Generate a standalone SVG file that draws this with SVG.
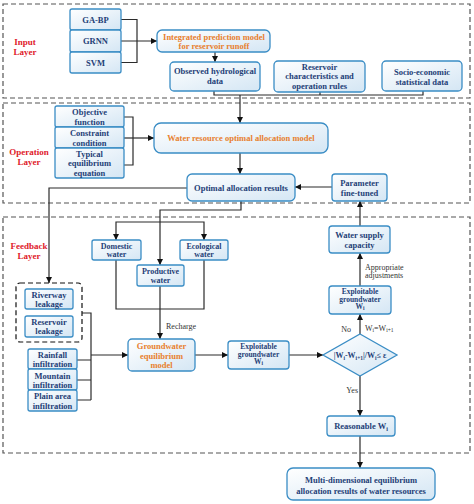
<svg xmlns="http://www.w3.org/2000/svg" width="474" height="504" viewBox="0 0 474 504">
<defs>
<linearGradient id="bg" x1="0" y1="0" x2="1" y2="1">
<stop offset="0" stop-color="#ffffff"/>
<stop offset="1" stop-color="#d4e6f4"/>
</linearGradient>
<marker id="ar" viewBox="0 0 10 10" refX="10" refY="5" markerWidth="7" markerHeight="6" markerUnits="userSpaceOnUse" orient="auto">
<path d="M0,0 L10,5 L0,10 z" fill="#111"/>
</marker>
<style>
.layer{fill:none;stroke:#555;stroke-width:1.2;stroke-dasharray:5 3}
.bx{fill:url(#bg);stroke:#3a8dc5;stroke-width:1.3}
.t{font-family:"Liberation Serif",serif;font-weight:bold;font-size:8.5px;fill:#1f3f77;text-anchor:middle}
.s{font-size:7.5px}
.m{font-size:8px}
.o{fill:#e8802e}
.r{font-family:"Liberation Serif",serif;font-weight:bold;font-size:9px;fill:#e0202a;text-anchor:middle}
.l{font-family:"Liberation Serif",serif;font-size:8px;fill:#333}
.c{fill:none;stroke:#2b2b2b;stroke-width:1.2}
.a{marker-end:url(#ar)}
</style>
</defs>
<rect width="474" height="504" fill="#fff"/>

<g id="layers">
<rect class="layer" x="3" y="4" width="467" height="94"/>
<rect class="layer" x="3" y="103" width="467" height="100"/>
<rect class="layer" x="3" y="217" width="467" height="236"/>
<text class="r" x="25" y="45">Input</text><text class="r" x="25" y="55">Layer</text>
<text class="r" x="29" y="155">Operation</text><text class="r" x="29" y="165">Layer</text>
<text class="r" x="29" y="249">Feedback</text><text class="r" x="29" y="259">Layer</text>
</g>

<g id="connectors">
<path class="c" d="M121,19.5 H137 V62.5 H121"/>
<path class="c a" d="M121,41 H157"/>
<path class="c a" d="M215,52 V62"/>
<path class="c" d="M214,91 V95 H423 V91 M320,92 V95"/>
<path class="c a" d="M240,95 V123"/>
<path class="c" d="M124,117 H133 V165 H124"/>
<path class="c a" d="M124,138 H154"/>
<path class="c a" d="M240,153 V174"/>
<path class="c a" d="M332,187 H295"/>
<path class="c a" d="M187,188 H49 V283"/>
<path class="c a" d="M241,201 V210 H160 V265"/>
<path class="c a" d="M160,222 H116 V240"/>
<path class="c a" d="M160,222 H204 V240"/>
<path class="c" d="M116,260 V309 H204 V260"/>
<path class="c a" d="M160,286 V339"/>
<path class="c" d="M82,313 H91 V400 M77,360 H91 M77,380 H91 M77,400 H91"/>
<path class="c a" d="M91,355 H128"/>
<path class="c a" d="M195,355 H228"/>
<path class="c a" d="M289,355 H323"/>
<path class="c a" d="M360,334 V314"/>
<path class="c a" d="M360,286 V253"/>
<path class="c a" d="M360,226 V201"/>
<path class="c a" d="M360,376 V416"/>
<path class="c a" d="M360,436 V468"/>
<text class="l" x="166" y="329">Recharge</text>
<text class="l" x="365" y="270">Appropriate</text>
<text class="l" x="365" y="278">adjustments</text>
<text class="l" x="351" y="332" text-anchor="end">No</text>
<text class="l" x="365" y="330.5">W<tspan font-size="5.5" dy="1.5">i</tspan><tspan dy="-1.5">=W</tspan><tspan font-size="5.5" dy="1.5">i+1</tspan></text>
<text class="l" x="358" y="393" text-anchor="end">Yes</text>
</g>

<g id="gabp"><rect class="bx" x="70" y="9" width="51" height="21" rx="2"/><text class="t" x="95.5" y="22.5">GA-BP</text></g>
<g id="grnn"><rect class="bx" x="70" y="30" width="51" height="22" rx="2"/><text class="t" x="95.5" y="44">GRNN</text></g>
<g id="svm"><rect class="bx" x="70" y="52" width="51" height="21" rx="2"/><text class="t" x="95.5" y="65.5">SVM</text></g>

<g id="integrated"><rect class="bx" x="157" y="30" width="113" height="22" rx="5"/>
<text class="t o" x="214" y="39.5">Integrated prediction model</text><text class="t o" x="214" y="48.5">for reservoir runoff</text></g>
<g id="observed"><rect class="bx" x="170" y="62" width="90" height="29" rx="4"/>
<text class="t" x="215" y="74">Observed hydrological</text><text class="t" x="215" y="84">data</text></g>
<g id="reservoir"><rect class="bx" x="274" y="61" width="91" height="31" rx="4"/>
<text class="t" x="319.5" y="69.5">Reservoir</text><text class="t" x="319.5" y="79">characteristics and</text><text class="t" x="319.5" y="88.5">operation rules</text></g>
<g id="socio"><rect class="bx" x="382" y="61" width="80" height="30" rx="4"/>
<text class="t" x="422" y="75">Socio-economic</text><text class="t" x="422" y="84.5">statistical data</text></g>

<g id="objective"><rect class="bx" x="55" y="106" width="69" height="21" rx="2"/>
<text class="t" x="89.5" y="115">Objective</text><text class="t" x="89.5" y="124.5">function</text></g>
<g id="constraint"><rect class="bx" x="55" y="127" width="69" height="21" rx="2"/>
<text class="t" x="89.5" y="136">Constraint</text><text class="t" x="89.5" y="145.5">condition</text></g>
<g id="typical"><rect class="bx" x="55" y="148" width="69" height="30" rx="2"/>
<text class="t" x="89.5" y="156.5">Typical</text><text class="t" x="89.5" y="166">equilibrium</text><text class="t" x="89.5" y="175.5">equation</text></g>

<g id="model"><rect class="bx" x="154" y="123" width="174" height="30" rx="7"/>
<text class="t o" x="241" y="141">Water resource optimal allocation model</text></g>
<g id="results"><rect class="bx" x="187" y="174" width="108" height="27" rx="5"/>
<text class="t" x="241" y="190.5">Optimal allocation results</text></g>
<g id="param"><rect class="bx" x="332" y="174" width="55" height="27" rx="3"/>
<text class="t" x="359.5" y="186">Parameter</text><text class="t" x="359.5" y="196">fine-tuned</text></g>

<g id="domestic"><rect class="bx" x="92" y="240" width="49" height="20" rx="2"/>
<text class="t m" x="116.5" y="248.5">Domestic</text><text class="t m" x="116.5" y="256.8">water</text></g>
<g id="ecological"><rect class="bx" x="180" y="240" width="48" height="20" rx="2"/>
<text class="t m" x="204" y="248.5">Ecological</text><text class="t m" x="204" y="256.8">water</text></g>
<g id="productive"><rect class="bx" x="137" y="265" width="47" height="21" rx="2"/>
<text class="t m" x="160.5" y="274">Productive</text><text class="t m" x="160.5" y="282.5">water</text></g>

<g id="leakage"><rect x="16" y="283" width="66" height="59" rx="4" fill="none" stroke="#111" stroke-width="1.2" stroke-dasharray="5 3"/></g>
<g id="riverway"><rect class="bx" x="25" y="289" width="48" height="20" rx="2"/>
<text class="t" x="49" y="297.5">Riverway</text><text class="t" x="49" y="306.5">leakage</text></g>
<g id="reservoirleak"><rect class="bx" x="25" y="316" width="48" height="21" rx="2"/>
<text class="t" x="49" y="325">Reservoir</text><text class="t" x="49" y="334">leakage</text></g>

<g id="rainfall"><rect class="bx" x="28" y="349" width="49" height="20" rx="2"/>
<text class="t" x="52.5" y="358">Rainfall</text><text class="t" x="52.5" y="367">infiltration</text></g>
<g id="mountain"><rect class="bx" x="28" y="369" width="49" height="21" rx="2"/>
<text class="t" x="52.5" y="378.5">Mountain</text><text class="t" x="52.5" y="388">infiltration</text></g>
<g id="plain"><rect class="bx" x="28" y="390" width="49" height="21" rx="2"/>
<text class="t" x="52.5" y="399">Plain area</text><text class="t" x="52.5" y="408.5">infiltration</text></g>

<g id="groundwater"><rect class="bx" x="128" y="339" width="67" height="32" rx="4"/>
<text class="t o" x="161.5" y="349">Groundwater</text><text class="t o" x="161.5" y="358.5">equilibrium</text><text class="t o" x="161.5" y="368">model</text></g>

<g id="exploitable1"><rect class="bx" x="228" y="341" width="61" height="28" rx="3"/>
<text class="t s" x="258.5" y="349">Exploitable</text><text class="t s" x="258.5" y="356.5">groundwater</text><text class="t s" x="258.5" y="364">W<tspan font-size="5.5" dy="1">i</tspan></text></g>

<g id="decision"><polygon class="bx" points="360,334 397,355 360,376 323,355"/>
<text class="t m" x="360" y="358">|W<tspan font-size="5.5" dy="1.5">i</tspan><tspan dy="-1.5">-W</tspan><tspan font-size="5.5" dy="1.5">i+1</tspan><tspan dy="-1.5">|/W</tspan><tspan font-size="5.5" dy="1.5">i</tspan><tspan dy="-1.5">≤ ε</tspan></text></g>

<g id="exploitable2"><rect class="bx" x="329" y="286" width="62" height="28" rx="3"/>
<text class="t s" x="360" y="294">Exploitable</text><text class="t s" x="360" y="301.5">groundwater</text><text class="t s" x="360" y="309">W<tspan font-size="5.5" dy="1">i</tspan></text></g>

<g id="supply"><rect class="bx" x="329" y="226" width="61" height="27" rx="3"/>
<text class="t" x="359.5" y="238">Water supply</text><text class="t" x="359.5" y="248">capacity</text></g>

<g id="reasonable"><rect class="bx" x="327" y="416" width="68" height="20" rx="3"/>
<text class="t" x="361" y="429">Reasonable W<tspan font-size="6" dy="1.5">i</tspan></text></g>

<g id="multi"><rect class="bx" x="287" y="468" width="148" height="32" rx="6"/>
<text class="t" x="361" y="483">Multi-dimensional equilibrium</text><text class="t" x="361" y="493.5">allocation results of water resources</text></g>
</svg>
